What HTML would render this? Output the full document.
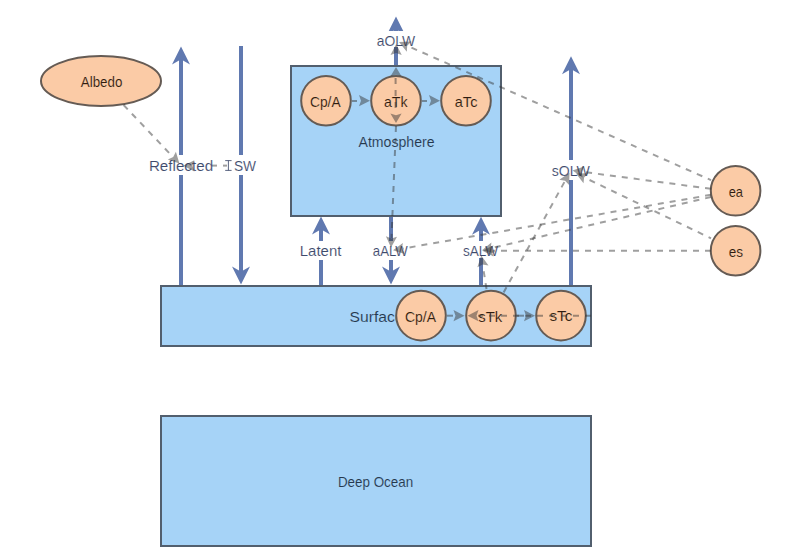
<!DOCTYPE html>
<html><head><meta charset="utf-8"><style>html,body{margin:0;padding:0;background:#fff;width:800px;height:557px;overflow:hidden}</style></head><body>
<svg width="800" height="557" viewBox="0 0 800 557" style="position:absolute;left:0;top:0;font-family:'Liberation Sans', sans-serif">
<rect width="800" height="557" fill="#fff"/>
<polygon points="181,46.5 190,64.5 183,60.5 179,60.5 172,64.5" fill="#6079b0"/>
<rect x="179" y="59.5" width="4" height="226.5" fill="#6079b0"/>
<polygon points="241,284.5 250,266.5 243,270.5 239,270.5 232,266.5" fill="#6079b0"/>
<rect x="239" y="46" width="4" height="225.5" fill="#6079b0"/>
<polygon points="396,16.5 405,34.5 398,30.5 394,30.5 387,34.5" fill="#6079b0"/>
<rect x="394" y="29.5" width="4" height="36.5" fill="#6079b0"/>
<polygon points="571,56.3 580,74.3 573,70.3 569,70.3 562,74.3" fill="#6079b0"/>
<rect x="569" y="69.3" width="4" height="216.7" fill="#6079b0"/>
<polygon points="321,216.5 330,234.5 323,230.5 319,230.5 312,234.5" fill="#6079b0"/>
<rect x="319" y="229.5" width="4" height="56.5" fill="#6079b0"/>
<polygon points="481,216.8 490,234.8 483,230.8 479,230.8 472,234.8" fill="#6079b0"/>
<rect x="479" y="229.8" width="4" height="56.19999999999999" fill="#6079b0"/>
<polygon points="391,284.5 400,266.5 393,270.5 389,270.5 382,266.5" fill="#6079b0"/>
<rect x="389" y="215" width="4" height="56.5" fill="#6079b0"/>
<rect x="291" y="66" width="210" height="150" fill="#a6d3f7" stroke="#525f6e" stroke-width="2"/>
<rect x="161" y="286" width="430" height="60" fill="#a6d3f7" stroke="#525f6e" stroke-width="2"/>
<rect x="161" y="416" width="430" height="130" fill="#a6d3f7" stroke="#525f6e" stroke-width="2"/>
<rect x="146" y="155" width="112" height="20" fill="#fff"/>
<rect x="296" y="241" width="50" height="19" fill="#fff"/>
<rect x="370" y="241" width="40" height="19" fill="#fff"/>
<rect x="460" y="241" width="40" height="17" fill="#fff"/>
<rect x="549" y="160" width="44" height="20" fill="#fff"/>
<rect x="372" y="31" width="46" height="16" fill="#fff"/>
<text x="358.5" y="146.9" font-size="14" fill="#26384c" stroke="#a6d3f7" stroke-width="0.12" textLength="76.0" lengthAdjust="spacingAndGlyphs">Atmosphere</text>
<text x="337.9" y="486.6" font-size="14" fill="#26384c" stroke="#a6d3f7" stroke-width="0.12" textLength="75.30000000000001" lengthAdjust="spacingAndGlyphs">Deep Ocean</text>
<text x="349.6" y="321.8" font-size="14" fill="#26384c" stroke="#a6d3f7" stroke-width="0.12" textLength="54.0" lengthAdjust="spacingAndGlyphs">Surface</text>
<circle cx="326" cy="100.7" r="24.8" fill="#fbcba6" stroke="#655b54" stroke-width="2"/>
<circle cx="396" cy="100.7" r="24.8" fill="#fbcba6" stroke="#655b54" stroke-width="2"/>
<circle cx="466" cy="100.7" r="24.8" fill="#fbcba6" stroke="#655b54" stroke-width="2"/>
<circle cx="421" cy="315.6" r="24.8" fill="#fbcba6" stroke="#655b54" stroke-width="2"/>
<circle cx="491" cy="315.6" r="24.8" fill="#fbcba6" stroke="#655b54" stroke-width="2"/>
<circle cx="561" cy="315.6" r="24.8" fill="#fbcba6" stroke="#655b54" stroke-width="2"/>
<circle cx="735.6" cy="190.8" r="24.8" fill="#fbcba6" stroke="#655b54" stroke-width="2"/>
<circle cx="735.6" cy="250.7" r="24.8" fill="#fbcba6" stroke="#655b54" stroke-width="2"/>
<ellipse cx="101" cy="81" rx="60" ry="25" fill="#fbcba6" stroke="#655b54" stroke-width="2"/>
<text x="80.8" y="87.1" font-size="14" fill="#2e1d10" stroke="#fbcba6" stroke-width="0.12" textLength="41.60000000000001" lengthAdjust="spacingAndGlyphs">Albedo</text>
<text x="310" y="106.6" font-size="14" fill="#2e1d10" stroke="#fbcba6" stroke-width="0.12" textLength="30.600000000000023" lengthAdjust="spacingAndGlyphs">Cp/A</text>
<text x="383.9" y="106.5" font-size="14" fill="#2e1d10" stroke="#fbcba6" stroke-width="0.12" textLength="23.600000000000023" lengthAdjust="spacingAndGlyphs">aTk</text>
<text x="454.8" y="106.6" font-size="14" fill="#2e1d10" stroke="#fbcba6" stroke-width="0.12" textLength="22.599999999999966" lengthAdjust="spacingAndGlyphs">aTc</text>
<text x="405" y="321.6" font-size="14" fill="#2e1d10" stroke="#fbcba6" stroke-width="0.12" textLength="31" lengthAdjust="spacingAndGlyphs">Cp/A</text>
<text x="478.2" y="321.5" font-size="14" fill="#2e1d10" stroke="#fbcba6" stroke-width="0.12" textLength="24.0" lengthAdjust="spacingAndGlyphs">sTk</text>
<text x="549.4" y="321.4" font-size="14" fill="#2e1d10" stroke="#fbcba6" stroke-width="0.12" textLength="23.0" lengthAdjust="spacingAndGlyphs">sTc</text>
<text x="728.7" y="196.8" font-size="14" fill="#2e1d10" stroke="#fbcba6" stroke-width="0.12" textLength="14.299999999999955" lengthAdjust="spacingAndGlyphs">ea</text>
<text x="728.7" y="256.8" font-size="14" fill="#2e1d10" stroke="#fbcba6" stroke-width="0.12" textLength="14.299999999999955" lengthAdjust="spacingAndGlyphs">es</text>
<text x="148.9" y="170.7" font-size="14" fill="#3e4a6c" stroke="#fff" stroke-width="0.12" textLength="64.19999999999999" lengthAdjust="spacingAndGlyphs">Reflected</text>
<path d="M225.2 160.6H231.6M228.4 160.6V170.4M225.2 170.4H231.6" stroke="#3e4a6c" stroke-width="0.85" fill="none"/>
<text x="233.9" y="170.7" font-size="14" fill="#3e4a6c" stroke="#fff" stroke-width="0.12" textLength="22.099999999999994" lengthAdjust="spacingAndGlyphs">SW</text>
<text x="299.8" y="256" font-size="14" fill="#3e4a6c" stroke="#fff" stroke-width="0.12" textLength="41.599999999999966" lengthAdjust="spacingAndGlyphs">Latent</text>
<text x="372.8" y="256" font-size="14" fill="#3e4a6c" stroke="#fff" stroke-width="0.12" textLength="35.0" lengthAdjust="spacingAndGlyphs">aALW</text>
<text x="462.9" y="256" font-size="14" fill="#3e4a6c" stroke="#fff" stroke-width="0.12" textLength="35.200000000000045" lengthAdjust="spacingAndGlyphs">sALW</text>
<text x="551.7" y="176" font-size="14" fill="#3e4a6c" stroke="#fff" stroke-width="0.12" textLength="38.09999999999991" lengthAdjust="spacingAndGlyphs">sOLW</text>
<text x="376.7" y="46" font-size="14" fill="#3e4a6c" stroke="#fff" stroke-width="0.12" textLength="38.30000000000001" lengthAdjust="spacingAndGlyphs">aOLW</text>
<line x1="123.6" y1="105" x2="172.5" y2="156.5" stroke="rgba(50,50,50,0.47)" stroke-width="2" stroke-dasharray="6 6" stroke-dashoffset="0"/>
<polygon points="179.4,163.6 167.8,159.5 173.2,157.1 175.9,151.8" fill="rgba(50,50,50,0.47)"/>
<line x1="212" y1="165.6" x2="217" y2="165.6" stroke="rgba(50,50,50,0.47)" stroke-width="2"/>
<line x1="223" y1="165.6" x2="227" y2="165.6" stroke="rgba(50,50,50,0.47)" stroke-width="2"/>
<polygon points="183.4,165.8 194.4,160.2 192.4,165.8 194.4,171.4" fill="rgba(50,50,50,0.47)"/>
<line x1="352" y1="101" x2="357" y2="101" stroke="rgba(50,50,50,0.47)" stroke-width="2"/>
<polygon points="370.0,100.7 359.0,106.3 361.0,100.7 359.0,95.1" fill="rgba(50,50,50,0.47)"/>
<line x1="422" y1="101" x2="427" y2="101" stroke="rgba(50,50,50,0.47)" stroke-width="2"/>
<polygon points="440.0,100.7 429.0,106.3 431.0,100.7 429.0,95.1" fill="rgba(50,50,50,0.47)"/>
<polygon points="396.0,67.0 401.6,76.5 396.0,74.8 390.4,76.5" fill="rgba(50,50,50,0.47)"/>
<polygon points="396.0,123.0 390.4,113.5 396.0,115.2 401.6,113.5" fill="rgba(50,50,50,0.47)"/>
<line x1="395.6" y1="78" x2="395.6" y2="114" stroke="rgba(50,50,50,0.47)" stroke-width="2" stroke-dasharray="6 6" stroke-dashoffset="0"/>
<line x1="396" y1="126" x2="391.5" y2="238" stroke="rgba(50,50,50,0.47)" stroke-width="2" stroke-dasharray="6 6" stroke-dashoffset="0"/>
<polygon points="391.0,247.5 385.9,236.3 391.4,238.5 397.0,236.7" fill="rgba(50,50,50,0.47)"/>
<polygon points="396.2,44.0 401.7,55.0 396.1,53.0 390.5,55.0" fill="rgba(50,50,50,0.47)"/>
<line x1="711" y1="180.1" x2="408.14535337758286" y2="46.14506014777703" stroke="rgba(50,50,50,0.47)" stroke-width="2" stroke-dasharray="6 6" stroke-dashoffset="2.5"/>
<polygon points="399.0,42.1 411.3,41.4 407.2,45.7 406.8,51.7" fill="rgba(50,50,50,0.47)"/>
<line x1="711" y1="188.8" x2="582.4138349590851" y2="171.80991465524374" stroke="rgba(50,50,50,0.47)" stroke-width="2" stroke-dasharray="6 6" stroke-dashoffset="0"/>
<polygon points="572.5,170.5 584.1,166.4 581.4,171.7 582.7,177.5" fill="rgba(50,50,50,0.47)"/>
<line x1="711" y1="194.8" x2="402.8510926559054" y2="248.58070552703538" stroke="rgba(50,50,50,0.47)" stroke-width="2" stroke-dasharray="6 6" stroke-dashoffset="0"/>
<polygon points="393.0,250.3 402.9,242.9 401.9,248.7 404.8,253.9" fill="rgba(50,50,50,0.47)"/>
<line x1="711" y1="197" x2="491.7396654871502" y2="248.03308222504322" stroke="rgba(50,50,50,0.47)" stroke-width="2" stroke-dasharray="6 6" stroke-dashoffset="0"/>
<polygon points="482.0,250.3 491.4,242.4 490.8,248.3 494.0,253.3" fill="rgba(50,50,50,0.47)"/>
<line x1="711" y1="238.3" x2="585.0152305746827" y2="177.8273106758477" stroke="rgba(50,50,50,0.47)" stroke-width="2" stroke-dasharray="6 6" stroke-dashoffset="3.3"/>
<polygon points="576.0,173.5 588.3,173.2 584.1,177.4 583.5,183.3" fill="rgba(50,50,50,0.47)"/>
<line x1="711" y1="250.8" x2="492.5" y2="250.8" stroke="rgba(50,50,50,0.47)" stroke-width="2" stroke-dasharray="6 6" stroke-dashoffset="0"/>
<polygon points="482.5,250.8 493.5,245.2 491.5,250.8 493.5,256.4" fill="rgba(50,50,50,0.47)"/>
<line x1="503.6" y1="292.5" x2="564.6771607339734" y2="181.5601496228131" stroke="rgba(50,50,50,0.47)" stroke-width="2" stroke-dasharray="6 6" stroke-dashoffset="0"/>
<polygon points="569.5,172.8 569.1,185.1 565.1,180.7 559.3,179.7" fill="rgba(50,50,50,0.47)"/>
<line x1="486.5" y1="289" x2="482.762653751324" y2="265.3771510696897" stroke="rgba(50,50,50,0.47)" stroke-width="2" stroke-dasharray="6 6" stroke-dashoffset="0"/>
<polygon points="481.2,255.5 488.5,265.5 482.6,264.4 477.4,267.2" fill="rgba(50,50,50,0.47)"/>
<line x1="447" y1="315.7" x2="453" y2="315.7" stroke="rgba(50,50,50,0.47)" stroke-width="2"/>
<polygon points="464.5,315.7 453.5,321.3 455.5,315.7 453.5,310.1" fill="rgba(50,50,50,0.47)"/>
<line x1="591" y1="315.7" x2="478" y2="315.7" stroke="rgba(50,50,50,0.47)" stroke-width="2" stroke-dasharray="6 6" stroke-dashoffset="0"/>
<polygon points="467.5,315.7 478.5,310.1 476.5,315.7 478.5,321.3" fill="rgba(50,50,50,0.47)"/>
<line x1="517" y1="315.7" x2="524" y2="315.7" stroke="rgba(50,50,50,0.47)" stroke-width="2"/>
<polygon points="535.0,315.7 524.0,321.3 526.0,315.7 524.0,310.1" fill="rgba(50,50,50,0.47)"/>
</svg>
</body></html>
